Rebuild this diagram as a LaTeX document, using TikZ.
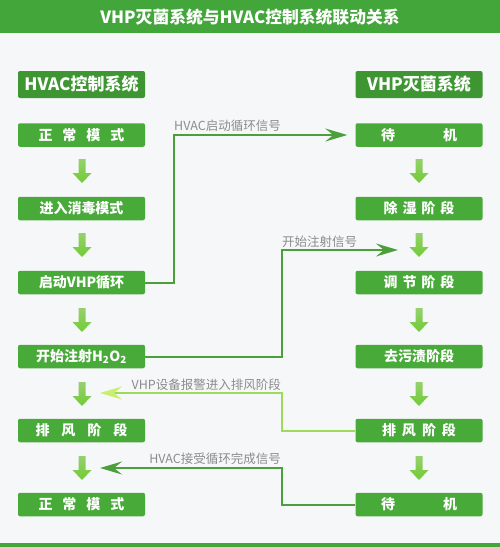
\documentclass[tikz,border=0pt]{standalone}
\usepackage{fontspec}
\usepackage{tikz}
\usetikzlibrary{arrows.meta}
\newfontfamily\cjk{Noto Sans CJK SC}

\definecolor{pagebg}{RGB}{246,247,249}
\definecolor{headgreen}{RGB}{66,166,58}
\definecolor{titlegreen}{RGB}{62,150,50}
\definecolor{boxgreen}{RGB}{72,170,56}
\definecolor{linegreen}{RGB}{76,160,60}
\definecolor{lightline}{RGB}{160,218,92}
\definecolor{lighthead}{RGB}{200,240,110}
\definecolor{taggray}{RGB}{140,140,140}
\definecolor{arrowtop}{RGB}{150,208,110}
\definecolor{arrowbot}{RGB}{112,204,52}

\newcommand{\kg}[1]{\hspace{#1pt}}
\newcommand{\flowdown}[2]{%
    \begin{scope}[shift={(#1,#2)}]
        \shade[top color=arrowtop, bottom color=arrowbot]
            (-3.5,0) -- (3.5,0) -- (3.5,14) -- (9.5,14) -- (0,24)
            -- (-9.5,14) -- (-3.5,14) -- cycle;
    \end{scope}}

\tikzset{
    box/.style={fill=boxgreen, text=white, rounded corners=2pt,
        minimum width=127pt, minimum height=23.5pt, inner sep=0pt,
        font=\cjk\bfseries\fontsize{14}{15}\selectfont},
    title/.style={box, fill=titlegreen, minimum height=27pt,
        font=\cjk\bfseries\fontsize{17}{18}\selectfont},
    signal/.style={draw=linegreen, line width=2pt,
        -{Stealth[length=22pt,width=13pt,inset=8pt,fill=linegreen]}},
    alarm/.style={draw=lightline, line width=2pt,
        -{Stealth[length=22pt,width=13pt,inset=8pt,color=lighthead,fill=lighthead]}},
    tag/.style={text=taggray, inner sep=0pt,
        font=\cjk\fontsize{12.5}{13}\selectfont}
}

\begin{document}
\begin{tikzpicture}[x=1pt,y=-1pt]
                \useasboundingbox (0,0) rectangle (500,547);
                \fill[pagebg] (0,0) rectangle (500,547);

                % header and footer
                \fill[headgreen] (0,0) rectangle (500,33);
                \fill[headgreen] (0,543) rectangle (500,547);
                \node[text=white, font=\cjk\bfseries\fontsize{16.8}{18}\selectfont] (header) at (250,17)
                {VHP灭菌系统与HVAC控制系统联动关系};

                % HVAC column
                \node[title] (hvac) at (81.5,84.5) {HVAC控制系统};
                \node[box] (l1) at (81.5,135) {正\kg{10}常\kg{10}模\kg{10}式};
                \node[box] (l2) at (81.5,208.5) {进入消毒模式};
                \node[box] (l3) at (81.5,282.5) {启动VHP循环};
                \node[box] (l4) at (81.5,356.5) {开始注射H\textsubscript{2}O\textsubscript{2}};
                \node[box] (l5) at (81.5,430.5) {排\kg{12}风\kg{12}阶\kg{12}段};
                \node[box] (l6) at (81.5,504.5) {正\kg{10}常\kg{10}模\kg{10}式};

                % VHP column
                \node[title] (vhp) at (419,84.5) {VHP灭菌系统};
                \node[box] (r1) at (419,135) {待\kg{48}机};
                \node[box] (r2) at (419,208.5) {除\kg{5}湿\kg{5}阶\kg{5}段};
                \node[box] (r3) at (419,282.5) {调\kg{5}节\kg{5}阶\kg{5}段};
                \node[box] (r4) at (419,356.5) {去污渍阶段};
                \node[box] (r5) at (419,430.5) {排\kg{6}风\kg{6}阶\kg{6}段};
                \node[box] (r6) at (419,504.5) {待\kg{48}机};

                % steps
                \foreach \y in {159,233,308,382,456} {
                    \flowdown{82}{\y}
                    \flowdown{419}{\y}
                }

                % signals
                \coordinate (inject) at (398,250);
                \coordinate (alarmend) at (100,393);
                \coordinate (doneend) at (100,468);

                \draw[signal, shorten >=8pt] (l3.east) -- ++(29,0) |- (r1.west)
                node[tag, pos=0.5, anchor=base west, xshift=-1pt, yshift=5pt] {HVAC启动循环信号};
                \draw[signal] (l4.east) -- ++(137,0) |- (inject)
                node[tag, pos=0.5, anchor=base west, xshift=-1pt, yshift=4pt] {开始注射信号};
                \draw[alarm] (r5.west) -- ++(-73.5,0) |- (alarmend)
                node[tag, pos=0.5, anchor=base east, yshift=4pt] {VHP设备报警进入排风阶段};
                \draw[signal] (r6.west) -- ++(-73.5,0) |- (doneend)
                node[tag, pos=0.5, anchor=base east, yshift=5pt] {HVAC接受循环完成信号};
            \end{tikzpicture}
\end{document}
